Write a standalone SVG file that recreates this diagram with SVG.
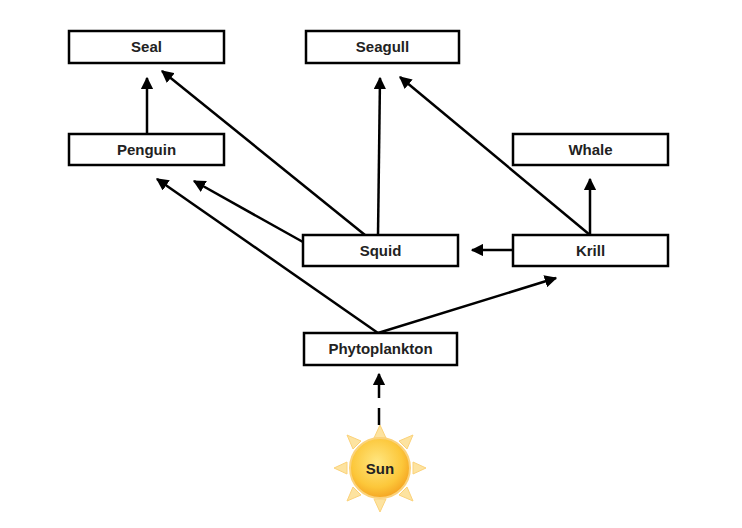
<svg xmlns="http://www.w3.org/2000/svg" width="742" height="528" viewBox="0 0 742 528">
<style>
.box{fill:#fff;stroke:#000;stroke-width:2.5}
.t{font-family:"Liberation Sans",Arial,sans-serif;font-weight:bold;font-size:15px;text-anchor:middle;fill:#222}
.c{stroke:#000;stroke-width:2.5;fill:none}
</style>
<defs>
<marker id="a" viewBox="0 0 10 10" refX="9" refY="5" markerWidth="5" markerHeight="5" orient="auto" markerUnits="strokeWidth"><path d="M0,0L10,5L0,10z" fill="#000"/></marker>
<radialGradient id="sg" cx="0.45" cy="0.4" r="0.6"><stop offset="0" stop-color="#ffe680"/><stop offset="0.7" stop-color="#fcc73a"/><stop offset="1" stop-color="#f5a623"/></radialGradient>
</defs>
<rect width="742" height="528" fill="#fff"/>
<g id="connectors" class="c">
<line x1="147" y1="134" x2="147" y2="78" marker-end="url(#a)"/>
<line x1="365" y1="235" x2="162" y2="71" marker-end="url(#a)"/>
<line x1="303" y1="242" x2="194" y2="181" marker-end="url(#a)"/>
<line x1="378" y1="333" x2="157" y2="179" marker-end="url(#a)"/>
<line x1="378" y1="235" x2="380" y2="78" marker-end="url(#a)"/>
<line x1="590" y1="235" x2="400" y2="77" marker-end="url(#a)"/>
<line x1="590" y1="235" x2="590" y2="179" marker-end="url(#a)"/>
<line x1="513" y1="250" x2="472" y2="250" marker-end="url(#a)"/>
<line x1="378" y1="333" x2="556" y2="278" marker-end="url(#a)"/>
<line x1="379" y1="425" x2="379" y2="408"/>
<line x1="379" y1="398" x2="379" y2="374" marker-end="url(#a)"/>
</g>
<g id="seal"><rect class="box" x="69" y="31" width="155" height="32"/><text class="t" x="146.5" y="52">Seal</text></g>
<g id="seagull"><rect class="box" x="306" y="31" width="153" height="32"/><text class="t" x="382.5" y="52">Seagull</text></g>
<g id="penguin"><rect class="box" x="69" y="134" width="155" height="31"/><text class="t" x="146.5" y="155">Penguin</text></g>
<g id="whale"><rect class="box" x="513" y="134" width="155" height="31"/><text class="t" x="590.5" y="155">Whale</text></g>
<g id="squid"><rect class="box" x="303" y="235" width="155" height="31"/><text class="t" x="380.5" y="256">Squid</text></g>
<g id="krill"><rect class="box" x="513" y="235" width="155" height="31"/><text class="t" x="590.5" y="256">Krill</text></g>
<g id="phytoplankton"><rect class="box" x="304" y="333" width="153" height="32"/><text class="t" x="380.5" y="354">Phytoplankton</text></g>
<g id="sun">
<g fill="#fde3a0" stroke="#fbd27a" stroke-width="1">
<polygon points="380,425 374,438 386,438"/>
<polygon points="380,512 374,499 386,499"/>
<polygon points="334,468 347,462 347,474"/>
<polygon points="426,468 413,462 413,474"/>
<polygon points="347,435 361,441 353,449"/>
<polygon points="413,435 399,441 407,449"/>
<polygon points="347,501 361,495 353,487"/>
<polygon points="413,501 399,495 407,487"/>
</g>
<circle cx="380" cy="468" r="30" fill="url(#sg)" stroke="#fbd27a" stroke-width="2"/>
<text class="t" x="380" y="474" font-size="16">Sun</text>
</g>
</svg>
